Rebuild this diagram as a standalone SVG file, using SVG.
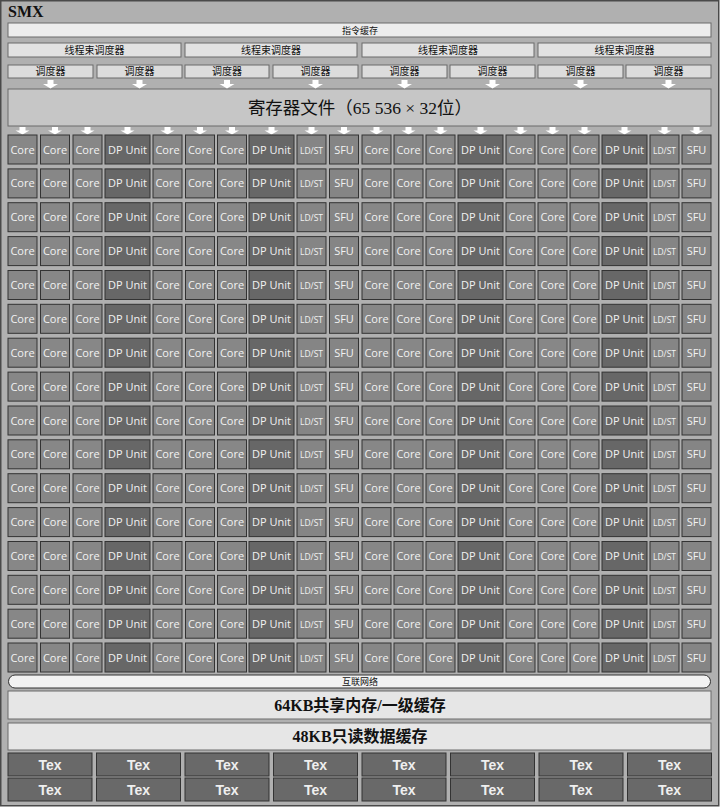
<svg xmlns="http://www.w3.org/2000/svg" xmlns:xlink="http://www.w3.org/1999/xlink" width="720" height="807" viewBox="0 0 720 807">
<style>
.frame{fill:#b0b0b0;stroke:#4a4a4a;stroke-width:1.5}
.lt{stroke:#6a6a6a;stroke-width:1}
.cj{font-family:"Liberation Serif","Noto Sans CJK SC",serif;fill:#111;text-anchor:middle}
.big{font-family:"Liberation Serif","Noto Sans CJK SC",serif;fill:#111;text-anchor:middle;font-size:16px;font-weight:bold}
.g text{font-family:"Open Sans","Liberation Sans",sans-serif;font-size:11px;fill:#f2f2f2;text-anchor:middle}
.g rect{y:-18.5px;height:29px;stroke:#333;stroke-width:1}
.g .k{width:29px;fill:#878787}
.g .d{width:45px;fill:#676767}
.g .l{width:29px;fill:#858585}
.g .s{width:29px;fill:#858585}
.g .t{font-size:8.5px}
.tex rect{fill:#696969;stroke:#333;stroke-width:1}
.tex text{font-family:"Liberation Sans",sans-serif;font-size:14px;font-weight:bold;fill:#efefef;text-anchor:middle}
</style>
<defs>
<path id="ar" d="M-3,0h6v3.5h4l-7,4l-7,-4h4z" fill="#fff"/>
<path id="ar2" d="M-3,0h6v4h4.5l-7.5,4.5l-7.5,-4.5h4.5z" fill="#fff"/>
</defs>
<rect class="frame" x="0.75" y="0.75" width="718" height="805"/>
<g id="smx"><text x="8" y="17" font-family="Liberation Serif,serif" font-size="16" font-weight="bold" fill="#111">SMX</text></g>
<g id="icache"><rect class="lt" x="8" y="23" width="703" height="14" fill="#ececec"/><text class="cj" x="360" y="34" font-size="9">指令缓存</text></g>
<g id="warp1"><rect class="lt" x="8" y="43" width="173" height="14" fill="#e2e2e2"/><text class="cj" x="94.5" y="54" font-size="10">线程束调度器</text></g>
<g id="warp2"><rect class="lt" x="185" y="43" width="172" height="14" fill="#e2e2e2"/><text class="cj" x="271" y="54" font-size="10">线程束调度器</text></g>
<g id="warp3"><rect class="lt" x="362" y="43" width="172" height="14" fill="#e2e2e2"/><text class="cj" x="448" y="54" font-size="10">线程束调度器</text></g>
<g id="warp4"><rect class="lt" x="538" y="43" width="173" height="14" fill="#e2e2e2"/><text class="cj" x="624.5" y="54" font-size="10">线程束调度器</text></g>
<g id="disp1"><rect class="lt" x="8" y="65" width="85" height="13" fill="#dcdcdc"/><text class="cj" x="50.5" y="75" font-size="10">调度器</text></g>
<g id="disp2"><rect class="lt" x="97" y="65" width="85" height="13" fill="#dcdcdc"/><text class="cj" x="139.5" y="75" font-size="10">调度器</text></g>
<g id="disp3"><rect class="lt" x="185" y="65" width="84" height="13" fill="#dcdcdc"/><text class="cj" x="227" y="75" font-size="10">调度器</text></g>
<g id="disp4"><rect class="lt" x="273" y="65" width="85" height="13" fill="#dcdcdc"/><text class="cj" x="315.5" y="75" font-size="10">调度器</text></g>
<g id="disp5"><rect class="lt" x="362" y="65" width="85" height="13" fill="#dcdcdc"/><text class="cj" x="404.5" y="75" font-size="10">调度器</text></g>
<g id="disp6"><rect class="lt" x="450" y="65" width="85" height="13" fill="#dcdcdc"/><text class="cj" x="492.5" y="75" font-size="10">调度器</text></g>
<g id="disp7"><rect class="lt" x="538" y="65" width="85" height="13" fill="#dcdcdc"/><text class="cj" x="580.5" y="75" font-size="10">调度器</text></g>
<g id="disp8"><rect class="lt" x="626" y="65" width="85" height="13" fill="#dcdcdc"/><text class="cj" x="668.5" y="75" font-size="10">调度器</text></g>
<g id="regfile"><rect class="lt" x="8" y="89" width="703" height="37" fill="#c6c6c6"/><text class="cj" x="360" y="114" font-size="17.5">寄存器文件（65 536 × 32位）</text></g>
<g id="connectors">
<use xlink:href="#ar2" x="50.5" y="80"/><use xlink:href="#ar2" x="139.5" y="80"/><use xlink:href="#ar2" x="227" y="80"/><use xlink:href="#ar2" x="315.5" y="80"/><use xlink:href="#ar2" x="404.5" y="80"/><use xlink:href="#ar2" x="492.5" y="80"/><use xlink:href="#ar2" x="580.5" y="80"/><use xlink:href="#ar2" x="668.5" y="80"/>
<use xlink:href="#ar" x="22.5" y="127"/><use xlink:href="#ar" x="55" y="127"/><use xlink:href="#ar" x="87.5" y="127"/><use xlink:href="#ar" x="127.5" y="127"/><use xlink:href="#ar" x="167.5" y="127"/><use xlink:href="#ar" x="200" y="127"/><use xlink:href="#ar" x="232" y="127"/><use xlink:href="#ar" x="271.5" y="127"/><use xlink:href="#ar" x="311.5" y="127"/><use xlink:href="#ar" x="344" y="127"/><use xlink:href="#ar" x="376.5" y="127"/><use xlink:href="#ar" x="408.5" y="127"/><use xlink:href="#ar" x="440.5" y="127"/><use xlink:href="#ar" x="480.5" y="127"/><use xlink:href="#ar" x="520.5" y="127"/><use xlink:href="#ar" x="552.5" y="127"/><use xlink:href="#ar" x="584.5" y="127"/><use xlink:href="#ar" x="624.5" y="127"/><use xlink:href="#ar" x="664.5" y="127"/><use xlink:href="#ar" x="696.5" y="127"/>
</g>
<g class="g">
<g id="r1" transform="translate(0 153.5)"><g id="r1c1"><rect class="k" x="8"/><text x="22.5">Core</text></g><g id="r1c2"><rect class="k" x="40.5"/><text x="55">Core</text></g><g id="r1c3"><rect class="k" x="73"/><text x="87.5">Core</text></g><g id="r1c4"><rect class="d" x="105"/><text x="127.5">DP Unit</text></g><g id="r1c5"><rect class="k" x="153"/><text x="167.5">Core</text></g><g id="r1c6"><rect class="k" x="185.5"/><text x="200">Core</text></g><g id="r1c7"><rect class="k" x="217.5"/><text x="232">Core</text></g><g id="r1c8"><rect class="d" x="249"/><text x="271.5">DP Unit</text></g><g id="r1c9"><rect class="l" x="297"/><text class="t" x="311.5">LD/ST</text></g><g id="r1c10"><rect class="s" x="329.5"/><text x="344">SFU</text></g><g id="r1c11"><rect class="k" x="362"/><text x="376.5">Core</text></g><g id="r1c12"><rect class="k" x="394"/><text x="408.5">Core</text></g><g id="r1c13"><rect class="k" x="426"/><text x="440.5">Core</text></g><g id="r1c14"><rect class="d" x="458"/><text x="480.5">DP Unit</text></g><g id="r1c15"><rect class="k" x="506"/><text x="520.5">Core</text></g><g id="r1c16"><rect class="k" x="538"/><text x="552.5">Core</text></g><g id="r1c17"><rect class="k" x="570"/><text x="584.5">Core</text></g><g id="r1c18"><rect class="d" x="602"/><text x="624.5">DP Unit</text></g><g id="r1c19"><rect class="l" x="650"/><text class="t" x="664.5">LD/ST</text></g><g id="r1c20"><rect class="s" x="682"/><text x="696.5">SFU</text></g></g>
<g id="r2" transform="translate(0 187.4)"><g id="r2c1"><rect class="k" x="8"/><text x="22.5">Core</text></g><g id="r2c2"><rect class="k" x="40.5"/><text x="55">Core</text></g><g id="r2c3"><rect class="k" x="73"/><text x="87.5">Core</text></g><g id="r2c4"><rect class="d" x="105"/><text x="127.5">DP Unit</text></g><g id="r2c5"><rect class="k" x="153"/><text x="167.5">Core</text></g><g id="r2c6"><rect class="k" x="185.5"/><text x="200">Core</text></g><g id="r2c7"><rect class="k" x="217.5"/><text x="232">Core</text></g><g id="r2c8"><rect class="d" x="249"/><text x="271.5">DP Unit</text></g><g id="r2c9"><rect class="l" x="297"/><text class="t" x="311.5">LD/ST</text></g><g id="r2c10"><rect class="s" x="329.5"/><text x="344">SFU</text></g><g id="r2c11"><rect class="k" x="362"/><text x="376.5">Core</text></g><g id="r2c12"><rect class="k" x="394"/><text x="408.5">Core</text></g><g id="r2c13"><rect class="k" x="426"/><text x="440.5">Core</text></g><g id="r2c14"><rect class="d" x="458"/><text x="480.5">DP Unit</text></g><g id="r2c15"><rect class="k" x="506"/><text x="520.5">Core</text></g><g id="r2c16"><rect class="k" x="538"/><text x="552.5">Core</text></g><g id="r2c17"><rect class="k" x="570"/><text x="584.5">Core</text></g><g id="r2c18"><rect class="d" x="602"/><text x="624.5">DP Unit</text></g><g id="r2c19"><rect class="l" x="650"/><text class="t" x="664.5">LD/ST</text></g><g id="r2c20"><rect class="s" x="682"/><text x="696.5">SFU</text></g></g>
<g id="r3" transform="translate(0 221.2)"><g id="r3c1"><rect class="k" x="8"/><text x="22.5">Core</text></g><g id="r3c2"><rect class="k" x="40.5"/><text x="55">Core</text></g><g id="r3c3"><rect class="k" x="73"/><text x="87.5">Core</text></g><g id="r3c4"><rect class="d" x="105"/><text x="127.5">DP Unit</text></g><g id="r3c5"><rect class="k" x="153"/><text x="167.5">Core</text></g><g id="r3c6"><rect class="k" x="185.5"/><text x="200">Core</text></g><g id="r3c7"><rect class="k" x="217.5"/><text x="232">Core</text></g><g id="r3c8"><rect class="d" x="249"/><text x="271.5">DP Unit</text></g><g id="r3c9"><rect class="l" x="297"/><text class="t" x="311.5">LD/ST</text></g><g id="r3c10"><rect class="s" x="329.5"/><text x="344">SFU</text></g><g id="r3c11"><rect class="k" x="362"/><text x="376.5">Core</text></g><g id="r3c12"><rect class="k" x="394"/><text x="408.5">Core</text></g><g id="r3c13"><rect class="k" x="426"/><text x="440.5">Core</text></g><g id="r3c14"><rect class="d" x="458"/><text x="480.5">DP Unit</text></g><g id="r3c15"><rect class="k" x="506"/><text x="520.5">Core</text></g><g id="r3c16"><rect class="k" x="538"/><text x="552.5">Core</text></g><g id="r3c17"><rect class="k" x="570"/><text x="584.5">Core</text></g><g id="r3c18"><rect class="d" x="602"/><text x="624.5">DP Unit</text></g><g id="r3c19"><rect class="l" x="650"/><text class="t" x="664.5">LD/ST</text></g><g id="r3c20"><rect class="s" x="682"/><text x="696.5">SFU</text></g></g>
<g id="r4" transform="translate(0 255.1)"><g id="r4c1"><rect class="k" x="8"/><text x="22.5">Core</text></g><g id="r4c2"><rect class="k" x="40.5"/><text x="55">Core</text></g><g id="r4c3"><rect class="k" x="73"/><text x="87.5">Core</text></g><g id="r4c4"><rect class="d" x="105"/><text x="127.5">DP Unit</text></g><g id="r4c5"><rect class="k" x="153"/><text x="167.5">Core</text></g><g id="r4c6"><rect class="k" x="185.5"/><text x="200">Core</text></g><g id="r4c7"><rect class="k" x="217.5"/><text x="232">Core</text></g><g id="r4c8"><rect class="d" x="249"/><text x="271.5">DP Unit</text></g><g id="r4c9"><rect class="l" x="297"/><text class="t" x="311.5">LD/ST</text></g><g id="r4c10"><rect class="s" x="329.5"/><text x="344">SFU</text></g><g id="r4c11"><rect class="k" x="362"/><text x="376.5">Core</text></g><g id="r4c12"><rect class="k" x="394"/><text x="408.5">Core</text></g><g id="r4c13"><rect class="k" x="426"/><text x="440.5">Core</text></g><g id="r4c14"><rect class="d" x="458"/><text x="480.5">DP Unit</text></g><g id="r4c15"><rect class="k" x="506"/><text x="520.5">Core</text></g><g id="r4c16"><rect class="k" x="538"/><text x="552.5">Core</text></g><g id="r4c17"><rect class="k" x="570"/><text x="584.5">Core</text></g><g id="r4c18"><rect class="d" x="602"/><text x="624.5">DP Unit</text></g><g id="r4c19"><rect class="l" x="650"/><text class="t" x="664.5">LD/ST</text></g><g id="r4c20"><rect class="s" x="682"/><text x="696.5">SFU</text></g></g>
<g id="r5" transform="translate(0 289)"><g id="r5c1"><rect class="k" x="8"/><text x="22.5">Core</text></g><g id="r5c2"><rect class="k" x="40.5"/><text x="55">Core</text></g><g id="r5c3"><rect class="k" x="73"/><text x="87.5">Core</text></g><g id="r5c4"><rect class="d" x="105"/><text x="127.5">DP Unit</text></g><g id="r5c5"><rect class="k" x="153"/><text x="167.5">Core</text></g><g id="r5c6"><rect class="k" x="185.5"/><text x="200">Core</text></g><g id="r5c7"><rect class="k" x="217.5"/><text x="232">Core</text></g><g id="r5c8"><rect class="d" x="249"/><text x="271.5">DP Unit</text></g><g id="r5c9"><rect class="l" x="297"/><text class="t" x="311.5">LD/ST</text></g><g id="r5c10"><rect class="s" x="329.5"/><text x="344">SFU</text></g><g id="r5c11"><rect class="k" x="362"/><text x="376.5">Core</text></g><g id="r5c12"><rect class="k" x="394"/><text x="408.5">Core</text></g><g id="r5c13"><rect class="k" x="426"/><text x="440.5">Core</text></g><g id="r5c14"><rect class="d" x="458"/><text x="480.5">DP Unit</text></g><g id="r5c15"><rect class="k" x="506"/><text x="520.5">Core</text></g><g id="r5c16"><rect class="k" x="538"/><text x="552.5">Core</text></g><g id="r5c17"><rect class="k" x="570"/><text x="584.5">Core</text></g><g id="r5c18"><rect class="d" x="602"/><text x="624.5">DP Unit</text></g><g id="r5c19"><rect class="l" x="650"/><text class="t" x="664.5">LD/ST</text></g><g id="r5c20"><rect class="s" x="682"/><text x="696.5">SFU</text></g></g>
<g id="r6" transform="translate(0 322.8)"><g id="r6c1"><rect class="k" x="8"/><text x="22.5">Core</text></g><g id="r6c2"><rect class="k" x="40.5"/><text x="55">Core</text></g><g id="r6c3"><rect class="k" x="73"/><text x="87.5">Core</text></g><g id="r6c4"><rect class="d" x="105"/><text x="127.5">DP Unit</text></g><g id="r6c5"><rect class="k" x="153"/><text x="167.5">Core</text></g><g id="r6c6"><rect class="k" x="185.5"/><text x="200">Core</text></g><g id="r6c7"><rect class="k" x="217.5"/><text x="232">Core</text></g><g id="r6c8"><rect class="d" x="249"/><text x="271.5">DP Unit</text></g><g id="r6c9"><rect class="l" x="297"/><text class="t" x="311.5">LD/ST</text></g><g id="r6c10"><rect class="s" x="329.5"/><text x="344">SFU</text></g><g id="r6c11"><rect class="k" x="362"/><text x="376.5">Core</text></g><g id="r6c12"><rect class="k" x="394"/><text x="408.5">Core</text></g><g id="r6c13"><rect class="k" x="426"/><text x="440.5">Core</text></g><g id="r6c14"><rect class="d" x="458"/><text x="480.5">DP Unit</text></g><g id="r6c15"><rect class="k" x="506"/><text x="520.5">Core</text></g><g id="r6c16"><rect class="k" x="538"/><text x="552.5">Core</text></g><g id="r6c17"><rect class="k" x="570"/><text x="584.5">Core</text></g><g id="r6c18"><rect class="d" x="602"/><text x="624.5">DP Unit</text></g><g id="r6c19"><rect class="l" x="650"/><text class="t" x="664.5">LD/ST</text></g><g id="r6c20"><rect class="s" x="682"/><text x="696.5">SFU</text></g></g>
<g id="r7" transform="translate(0 356.7)"><g id="r7c1"><rect class="k" x="8"/><text x="22.5">Core</text></g><g id="r7c2"><rect class="k" x="40.5"/><text x="55">Core</text></g><g id="r7c3"><rect class="k" x="73"/><text x="87.5">Core</text></g><g id="r7c4"><rect class="d" x="105"/><text x="127.5">DP Unit</text></g><g id="r7c5"><rect class="k" x="153"/><text x="167.5">Core</text></g><g id="r7c6"><rect class="k" x="185.5"/><text x="200">Core</text></g><g id="r7c7"><rect class="k" x="217.5"/><text x="232">Core</text></g><g id="r7c8"><rect class="d" x="249"/><text x="271.5">DP Unit</text></g><g id="r7c9"><rect class="l" x="297"/><text class="t" x="311.5">LD/ST</text></g><g id="r7c10"><rect class="s" x="329.5"/><text x="344">SFU</text></g><g id="r7c11"><rect class="k" x="362"/><text x="376.5">Core</text></g><g id="r7c12"><rect class="k" x="394"/><text x="408.5">Core</text></g><g id="r7c13"><rect class="k" x="426"/><text x="440.5">Core</text></g><g id="r7c14"><rect class="d" x="458"/><text x="480.5">DP Unit</text></g><g id="r7c15"><rect class="k" x="506"/><text x="520.5">Core</text></g><g id="r7c16"><rect class="k" x="538"/><text x="552.5">Core</text></g><g id="r7c17"><rect class="k" x="570"/><text x="584.5">Core</text></g><g id="r7c18"><rect class="d" x="602"/><text x="624.5">DP Unit</text></g><g id="r7c19"><rect class="l" x="650"/><text class="t" x="664.5">LD/ST</text></g><g id="r7c20"><rect class="s" x="682"/><text x="696.5">SFU</text></g></g>
<g id="r8" transform="translate(0 390.6)"><g id="r8c1"><rect class="k" x="8"/><text x="22.5">Core</text></g><g id="r8c2"><rect class="k" x="40.5"/><text x="55">Core</text></g><g id="r8c3"><rect class="k" x="73"/><text x="87.5">Core</text></g><g id="r8c4"><rect class="d" x="105"/><text x="127.5">DP Unit</text></g><g id="r8c5"><rect class="k" x="153"/><text x="167.5">Core</text></g><g id="r8c6"><rect class="k" x="185.5"/><text x="200">Core</text></g><g id="r8c7"><rect class="k" x="217.5"/><text x="232">Core</text></g><g id="r8c8"><rect class="d" x="249"/><text x="271.5">DP Unit</text></g><g id="r8c9"><rect class="l" x="297"/><text class="t" x="311.5">LD/ST</text></g><g id="r8c10"><rect class="s" x="329.5"/><text x="344">SFU</text></g><g id="r8c11"><rect class="k" x="362"/><text x="376.5">Core</text></g><g id="r8c12"><rect class="k" x="394"/><text x="408.5">Core</text></g><g id="r8c13"><rect class="k" x="426"/><text x="440.5">Core</text></g><g id="r8c14"><rect class="d" x="458"/><text x="480.5">DP Unit</text></g><g id="r8c15"><rect class="k" x="506"/><text x="520.5">Core</text></g><g id="r8c16"><rect class="k" x="538"/><text x="552.5">Core</text></g><g id="r8c17"><rect class="k" x="570"/><text x="584.5">Core</text></g><g id="r8c18"><rect class="d" x="602"/><text x="624.5">DP Unit</text></g><g id="r8c19"><rect class="l" x="650"/><text class="t" x="664.5">LD/ST</text></g><g id="r8c20"><rect class="s" x="682"/><text x="696.5">SFU</text></g></g>
<g id="r9" transform="translate(0 424.5)"><g id="r9c1"><rect class="k" x="8"/><text x="22.5">Core</text></g><g id="r9c2"><rect class="k" x="40.5"/><text x="55">Core</text></g><g id="r9c3"><rect class="k" x="73"/><text x="87.5">Core</text></g><g id="r9c4"><rect class="d" x="105"/><text x="127.5">DP Unit</text></g><g id="r9c5"><rect class="k" x="153"/><text x="167.5">Core</text></g><g id="r9c6"><rect class="k" x="185.5"/><text x="200">Core</text></g><g id="r9c7"><rect class="k" x="217.5"/><text x="232">Core</text></g><g id="r9c8"><rect class="d" x="249"/><text x="271.5">DP Unit</text></g><g id="r9c9"><rect class="l" x="297"/><text class="t" x="311.5">LD/ST</text></g><g id="r9c10"><rect class="s" x="329.5"/><text x="344">SFU</text></g><g id="r9c11"><rect class="k" x="362"/><text x="376.5">Core</text></g><g id="r9c12"><rect class="k" x="394"/><text x="408.5">Core</text></g><g id="r9c13"><rect class="k" x="426"/><text x="440.5">Core</text></g><g id="r9c14"><rect class="d" x="458"/><text x="480.5">DP Unit</text></g><g id="r9c15"><rect class="k" x="506"/><text x="520.5">Core</text></g><g id="r9c16"><rect class="k" x="538"/><text x="552.5">Core</text></g><g id="r9c17"><rect class="k" x="570"/><text x="584.5">Core</text></g><g id="r9c18"><rect class="d" x="602"/><text x="624.5">DP Unit</text></g><g id="r9c19"><rect class="l" x="650"/><text class="t" x="664.5">LD/ST</text></g><g id="r9c20"><rect class="s" x="682"/><text x="696.5">SFU</text></g></g>
<g id="r10" transform="translate(0 458.3)"><g id="r10c1"><rect class="k" x="8"/><text x="22.5">Core</text></g><g id="r10c2"><rect class="k" x="40.5"/><text x="55">Core</text></g><g id="r10c3"><rect class="k" x="73"/><text x="87.5">Core</text></g><g id="r10c4"><rect class="d" x="105"/><text x="127.5">DP Unit</text></g><g id="r10c5"><rect class="k" x="153"/><text x="167.5">Core</text></g><g id="r10c6"><rect class="k" x="185.5"/><text x="200">Core</text></g><g id="r10c7"><rect class="k" x="217.5"/><text x="232">Core</text></g><g id="r10c8"><rect class="d" x="249"/><text x="271.5">DP Unit</text></g><g id="r10c9"><rect class="l" x="297"/><text class="t" x="311.5">LD/ST</text></g><g id="r10c10"><rect class="s" x="329.5"/><text x="344">SFU</text></g><g id="r10c11"><rect class="k" x="362"/><text x="376.5">Core</text></g><g id="r10c12"><rect class="k" x="394"/><text x="408.5">Core</text></g><g id="r10c13"><rect class="k" x="426"/><text x="440.5">Core</text></g><g id="r10c14"><rect class="d" x="458"/><text x="480.5">DP Unit</text></g><g id="r10c15"><rect class="k" x="506"/><text x="520.5">Core</text></g><g id="r10c16"><rect class="k" x="538"/><text x="552.5">Core</text></g><g id="r10c17"><rect class="k" x="570"/><text x="584.5">Core</text></g><g id="r10c18"><rect class="d" x="602"/><text x="624.5">DP Unit</text></g><g id="r10c19"><rect class="l" x="650"/><text class="t" x="664.5">LD/ST</text></g><g id="r10c20"><rect class="s" x="682"/><text x="696.5">SFU</text></g></g>
<g id="r11" transform="translate(0 492.2)"><g id="r11c1"><rect class="k" x="8"/><text x="22.5">Core</text></g><g id="r11c2"><rect class="k" x="40.5"/><text x="55">Core</text></g><g id="r11c3"><rect class="k" x="73"/><text x="87.5">Core</text></g><g id="r11c4"><rect class="d" x="105"/><text x="127.5">DP Unit</text></g><g id="r11c5"><rect class="k" x="153"/><text x="167.5">Core</text></g><g id="r11c6"><rect class="k" x="185.5"/><text x="200">Core</text></g><g id="r11c7"><rect class="k" x="217.5"/><text x="232">Core</text></g><g id="r11c8"><rect class="d" x="249"/><text x="271.5">DP Unit</text></g><g id="r11c9"><rect class="l" x="297"/><text class="t" x="311.5">LD/ST</text></g><g id="r11c10"><rect class="s" x="329.5"/><text x="344">SFU</text></g><g id="r11c11"><rect class="k" x="362"/><text x="376.5">Core</text></g><g id="r11c12"><rect class="k" x="394"/><text x="408.5">Core</text></g><g id="r11c13"><rect class="k" x="426"/><text x="440.5">Core</text></g><g id="r11c14"><rect class="d" x="458"/><text x="480.5">DP Unit</text></g><g id="r11c15"><rect class="k" x="506"/><text x="520.5">Core</text></g><g id="r11c16"><rect class="k" x="538"/><text x="552.5">Core</text></g><g id="r11c17"><rect class="k" x="570"/><text x="584.5">Core</text></g><g id="r11c18"><rect class="d" x="602"/><text x="624.5">DP Unit</text></g><g id="r11c19"><rect class="l" x="650"/><text class="t" x="664.5">LD/ST</text></g><g id="r11c20"><rect class="s" x="682"/><text x="696.5">SFU</text></g></g>
<g id="r12" transform="translate(0 526.1)"><g id="r12c1"><rect class="k" x="8"/><text x="22.5">Core</text></g><g id="r12c2"><rect class="k" x="40.5"/><text x="55">Core</text></g><g id="r12c3"><rect class="k" x="73"/><text x="87.5">Core</text></g><g id="r12c4"><rect class="d" x="105"/><text x="127.5">DP Unit</text></g><g id="r12c5"><rect class="k" x="153"/><text x="167.5">Core</text></g><g id="r12c6"><rect class="k" x="185.5"/><text x="200">Core</text></g><g id="r12c7"><rect class="k" x="217.5"/><text x="232">Core</text></g><g id="r12c8"><rect class="d" x="249"/><text x="271.5">DP Unit</text></g><g id="r12c9"><rect class="l" x="297"/><text class="t" x="311.5">LD/ST</text></g><g id="r12c10"><rect class="s" x="329.5"/><text x="344">SFU</text></g><g id="r12c11"><rect class="k" x="362"/><text x="376.5">Core</text></g><g id="r12c12"><rect class="k" x="394"/><text x="408.5">Core</text></g><g id="r12c13"><rect class="k" x="426"/><text x="440.5">Core</text></g><g id="r12c14"><rect class="d" x="458"/><text x="480.5">DP Unit</text></g><g id="r12c15"><rect class="k" x="506"/><text x="520.5">Core</text></g><g id="r12c16"><rect class="k" x="538"/><text x="552.5">Core</text></g><g id="r12c17"><rect class="k" x="570"/><text x="584.5">Core</text></g><g id="r12c18"><rect class="d" x="602"/><text x="624.5">DP Unit</text></g><g id="r12c19"><rect class="l" x="650"/><text class="t" x="664.5">LD/ST</text></g><g id="r12c20"><rect class="s" x="682"/><text x="696.5">SFU</text></g></g>
<g id="r13" transform="translate(0 560)"><g id="r13c1"><rect class="k" x="8"/><text x="22.5">Core</text></g><g id="r13c2"><rect class="k" x="40.5"/><text x="55">Core</text></g><g id="r13c3"><rect class="k" x="73"/><text x="87.5">Core</text></g><g id="r13c4"><rect class="d" x="105"/><text x="127.5">DP Unit</text></g><g id="r13c5"><rect class="k" x="153"/><text x="167.5">Core</text></g><g id="r13c6"><rect class="k" x="185.5"/><text x="200">Core</text></g><g id="r13c7"><rect class="k" x="217.5"/><text x="232">Core</text></g><g id="r13c8"><rect class="d" x="249"/><text x="271.5">DP Unit</text></g><g id="r13c9"><rect class="l" x="297"/><text class="t" x="311.5">LD/ST</text></g><g id="r13c10"><rect class="s" x="329.5"/><text x="344">SFU</text></g><g id="r13c11"><rect class="k" x="362"/><text x="376.5">Core</text></g><g id="r13c12"><rect class="k" x="394"/><text x="408.5">Core</text></g><g id="r13c13"><rect class="k" x="426"/><text x="440.5">Core</text></g><g id="r13c14"><rect class="d" x="458"/><text x="480.5">DP Unit</text></g><g id="r13c15"><rect class="k" x="506"/><text x="520.5">Core</text></g><g id="r13c16"><rect class="k" x="538"/><text x="552.5">Core</text></g><g id="r13c17"><rect class="k" x="570"/><text x="584.5">Core</text></g><g id="r13c18"><rect class="d" x="602"/><text x="624.5">DP Unit</text></g><g id="r13c19"><rect class="l" x="650"/><text class="t" x="664.5">LD/ST</text></g><g id="r13c20"><rect class="s" x="682"/><text x="696.5">SFU</text></g></g>
<g id="r14" transform="translate(0 593.8)"><g id="r14c1"><rect class="k" x="8"/><text x="22.5">Core</text></g><g id="r14c2"><rect class="k" x="40.5"/><text x="55">Core</text></g><g id="r14c3"><rect class="k" x="73"/><text x="87.5">Core</text></g><g id="r14c4"><rect class="d" x="105"/><text x="127.5">DP Unit</text></g><g id="r14c5"><rect class="k" x="153"/><text x="167.5">Core</text></g><g id="r14c6"><rect class="k" x="185.5"/><text x="200">Core</text></g><g id="r14c7"><rect class="k" x="217.5"/><text x="232">Core</text></g><g id="r14c8"><rect class="d" x="249"/><text x="271.5">DP Unit</text></g><g id="r14c9"><rect class="l" x="297"/><text class="t" x="311.5">LD/ST</text></g><g id="r14c10"><rect class="s" x="329.5"/><text x="344">SFU</text></g><g id="r14c11"><rect class="k" x="362"/><text x="376.5">Core</text></g><g id="r14c12"><rect class="k" x="394"/><text x="408.5">Core</text></g><g id="r14c13"><rect class="k" x="426"/><text x="440.5">Core</text></g><g id="r14c14"><rect class="d" x="458"/><text x="480.5">DP Unit</text></g><g id="r14c15"><rect class="k" x="506"/><text x="520.5">Core</text></g><g id="r14c16"><rect class="k" x="538"/><text x="552.5">Core</text></g><g id="r14c17"><rect class="k" x="570"/><text x="584.5">Core</text></g><g id="r14c18"><rect class="d" x="602"/><text x="624.5">DP Unit</text></g><g id="r14c19"><rect class="l" x="650"/><text class="t" x="664.5">LD/ST</text></g><g id="r14c20"><rect class="s" x="682"/><text x="696.5">SFU</text></g></g>
<g id="r15" transform="translate(0 627.7)"><g id="r15c1"><rect class="k" x="8"/><text x="22.5">Core</text></g><g id="r15c2"><rect class="k" x="40.5"/><text x="55">Core</text></g><g id="r15c3"><rect class="k" x="73"/><text x="87.5">Core</text></g><g id="r15c4"><rect class="d" x="105"/><text x="127.5">DP Unit</text></g><g id="r15c5"><rect class="k" x="153"/><text x="167.5">Core</text></g><g id="r15c6"><rect class="k" x="185.5"/><text x="200">Core</text></g><g id="r15c7"><rect class="k" x="217.5"/><text x="232">Core</text></g><g id="r15c8"><rect class="d" x="249"/><text x="271.5">DP Unit</text></g><g id="r15c9"><rect class="l" x="297"/><text class="t" x="311.5">LD/ST</text></g><g id="r15c10"><rect class="s" x="329.5"/><text x="344">SFU</text></g><g id="r15c11"><rect class="k" x="362"/><text x="376.5">Core</text></g><g id="r15c12"><rect class="k" x="394"/><text x="408.5">Core</text></g><g id="r15c13"><rect class="k" x="426"/><text x="440.5">Core</text></g><g id="r15c14"><rect class="d" x="458"/><text x="480.5">DP Unit</text></g><g id="r15c15"><rect class="k" x="506"/><text x="520.5">Core</text></g><g id="r15c16"><rect class="k" x="538"/><text x="552.5">Core</text></g><g id="r15c17"><rect class="k" x="570"/><text x="584.5">Core</text></g><g id="r15c18"><rect class="d" x="602"/><text x="624.5">DP Unit</text></g><g id="r15c19"><rect class="l" x="650"/><text class="t" x="664.5">LD/ST</text></g><g id="r15c20"><rect class="s" x="682"/><text x="696.5">SFU</text></g></g>
<g id="r16" transform="translate(0 661.5)"><g id="r16c1"><rect class="k" x="8"/><text x="22.5">Core</text></g><g id="r16c2"><rect class="k" x="40.5"/><text x="55">Core</text></g><g id="r16c3"><rect class="k" x="73"/><text x="87.5">Core</text></g><g id="r16c4"><rect class="d" x="105"/><text x="127.5">DP Unit</text></g><g id="r16c5"><rect class="k" x="153"/><text x="167.5">Core</text></g><g id="r16c6"><rect class="k" x="185.5"/><text x="200">Core</text></g><g id="r16c7"><rect class="k" x="217.5"/><text x="232">Core</text></g><g id="r16c8"><rect class="d" x="249"/><text x="271.5">DP Unit</text></g><g id="r16c9"><rect class="l" x="297"/><text class="t" x="311.5">LD/ST</text></g><g id="r16c10"><rect class="s" x="329.5"/><text x="344">SFU</text></g><g id="r16c11"><rect class="k" x="362"/><text x="376.5">Core</text></g><g id="r16c12"><rect class="k" x="394"/><text x="408.5">Core</text></g><g id="r16c13"><rect class="k" x="426"/><text x="440.5">Core</text></g><g id="r16c14"><rect class="d" x="458"/><text x="480.5">DP Unit</text></g><g id="r16c15"><rect class="k" x="506"/><text x="520.5">Core</text></g><g id="r16c16"><rect class="k" x="538"/><text x="552.5">Core</text></g><g id="r16c17"><rect class="k" x="570"/><text x="584.5">Core</text></g><g id="r16c18"><rect class="d" x="602"/><text x="624.5">DP Unit</text></g><g id="r16c19"><rect class="l" x="650"/><text class="t" x="664.5">LD/ST</text></g><g id="r16c20"><rect class="s" x="682"/><text x="696.5">SFU</text></g></g>
</g>
<g id="interconnect"><rect x="8.5" y="675" width="702" height="13" rx="6.5" fill="#f2f2f2" stroke="#333" stroke-width="1"/><text class="cj" x="360" y="685" font-size="9">互联网络</text></g>
<g id="shmem"><rect class="lt" x="8" y="691" width="703" height="28" fill="#e6e6e6"/><text class="big" x="360" y="711">64KB共享内存/一级缓存</text></g>
<g id="rocache"><rect class="lt" x="8" y="723" width="703" height="27" fill="#e6e6e6"/><text class="big" x="360" y="742">48KB只读数据缓存</text></g>
<g class="tex">
<g id="tex1"><rect x="8" y="753" width="84" height="23"/><text x="50" y="769.5">Tex</text></g>
<g id="tex2"><rect x="96.5" y="753" width="84" height="23"/><text x="138.5" y="769.5">Tex</text></g>
<g id="tex3"><rect x="185" y="753" width="84" height="23"/><text x="227" y="769.5">Tex</text></g>
<g id="tex4"><rect x="273.5" y="753" width="84" height="23"/><text x="315.5" y="769.5">Tex</text></g>
<g id="tex5"><rect x="362" y="753" width="84" height="23"/><text x="404" y="769.5">Tex</text></g>
<g id="tex6"><rect x="450.5" y="753" width="84" height="23"/><text x="492.5" y="769.5">Tex</text></g>
<g id="tex7"><rect x="539" y="753" width="84" height="23"/><text x="581" y="769.5">Tex</text></g>
<g id="tex8"><rect x="627.5" y="753" width="84" height="23"/><text x="669.5" y="769.5">Tex</text></g>
<g id="tex9"><rect x="8" y="778" width="84" height="23"/><text x="50" y="794.5">Tex</text></g>
<g id="tex10"><rect x="96.5" y="778" width="84" height="23"/><text x="138.5" y="794.5">Tex</text></g>
<g id="tex11"><rect x="185" y="778" width="84" height="23"/><text x="227" y="794.5">Tex</text></g>
<g id="tex12"><rect x="273.5" y="778" width="84" height="23"/><text x="315.5" y="794.5">Tex</text></g>
<g id="tex13"><rect x="362" y="778" width="84" height="23"/><text x="404" y="794.5">Tex</text></g>
<g id="tex14"><rect x="450.5" y="778" width="84" height="23"/><text x="492.5" y="794.5">Tex</text></g>
<g id="tex15"><rect x="539" y="778" width="84" height="23"/><text x="581" y="794.5">Tex</text></g>
<g id="tex16"><rect x="627.5" y="778" width="84" height="23"/><text x="669.5" y="794.5">Tex</text></g>
</g>
</svg>
